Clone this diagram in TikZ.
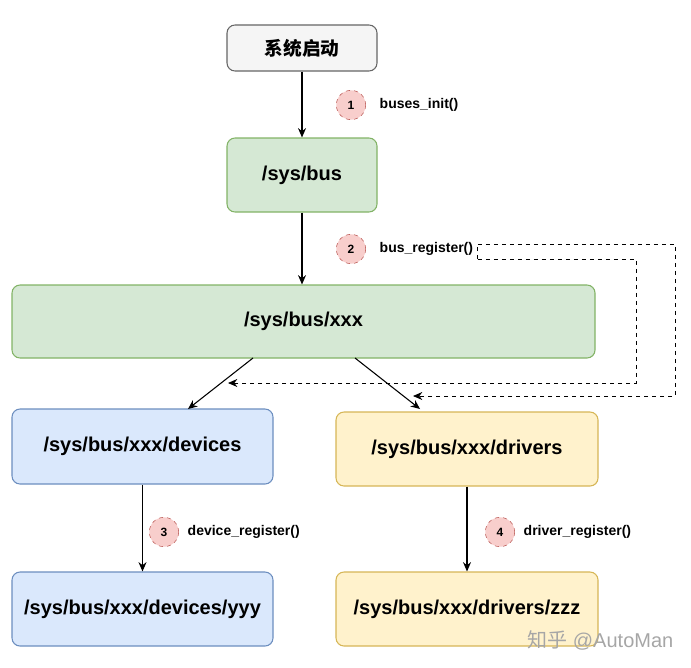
\documentclass[tikz,border=0pt]{standalone}
\usepackage{fontspec}
\setmainfont{Liberation Sans}
\newfontfamily\cjk{Noto Sans CJK SC}
\usetikzlibrary{arrows.meta}
\definecolor{gf}{HTML}{D5E8D4}\definecolor{gd}{HTML}{82B366}
\definecolor{bf}{HTML}{DAE8FC}\definecolor{bd}{HTML}{6C8EBF}
\definecolor{yf}{HTML}{FFF2CC}\definecolor{yd}{HTML}{D6B656}
\definecolor{rf}{HTML}{F8CECC}\definecolor{rd}{HTML}{B85450}
\tikzset{
 bx/.style={draw=#1d,fill=#1f,rounded corners=6pt,line width=0.8pt,font=\bfseries\fontsize{15}{18}\selectfont,inner sep=0pt},
 num/.style={circle,draw=rd,fill=rf,dashed,minimum size=22pt,inner sep=0pt,font=\bfseries\fontsize{9}{11}\selectfont},
 lab/.style={anchor=west,font=\bfseries\fontsize{10.5}{12}\selectfont},
 arr/.style={-{Stealth[length=7pt,width=6pt]},line width=0.8pt},
 darr/.style={-{Stealth[length=7pt,width=6pt]},dashed,line width=0.6pt}
}
\begin{document}
\begin{tikzpicture}[x=0.75pt,y=-0.75pt]
\useasboundingbox (0,0) rectangle (691,667);
\node[draw=black!60,fill=black!4,rounded corners=6pt,line width=0.8pt,minimum width=150*0.75pt,minimum height=46*0.75pt,font=\cjk\bfseries\fontsize{14}{17}\selectfont] (s) at (302,48) {系统启动};
\node[bx=g,minimum width=150*0.75pt,minimum height=74*0.75pt] (b) at (302,175) {/sys/bus};
\node[bx=g,minimum width=583*0.75pt,minimum height=73*0.75pt] (x) at (303.5,321.5) {/sys/bus/xxx};
\node[bx=b,minimum width=261*0.75pt,minimum height=75*0.75pt] (dv) at (142.5,446.5) {/sys/bus/xxx/devices};
\node[bx=y,minimum width=262*0.75pt,minimum height=74*0.75pt] (dr) at (467,449) {/sys/bus/xxx/drivers};
\node[bx=b,minimum width=261*0.75pt,minimum height=74*0.75pt] (dy) at (142.5,609) {/sys/bus/xxx/devices/yyy};
\node[bx=y,minimum width=262*0.75pt,minimum height=74*0.75pt] (dz) at (467,609) {/sys/bus/xxx/drivers/zzz};
\node[num] (n1) at (351,105) {1};
\node[lab] (l1) at (375,105) {buses\_init()};
\node[num] (n2) at (351,249) {2};
\node[lab] (l2) at (375,249) {bus\_register()};
\node[num] (n3) at (164,532) {3};
\node[lab] (l3) at (183,532) {device\_register()};
\node[num] (n4) at (500,532) {4};
\node[lab] (l4) at (519,532) {driver\_register()};
\draw[arr] (s.south) -- (b.north);
\draw[arr] (b.south) -- (x.north -| b.south);
\draw[arr] (253,358) -- (188,409);
\draw[arr] (355,358) -- (420,409);
\draw[arr] (dv.south) -- (dy.north);
\draw[arr] (dr.south) -- (dz.north);
\coordinate (e1) at (228,383);
\coordinate (e2) at (413,396);
\coordinate (t1) at (l2.east |- 0,259);
\coordinate (t2) at (l2.east |- 0,244);
\draw[darr] (t1) -- (636,259) -- (636,383) -- (e1);
\draw[darr] (t2) -- (675,244) -- (675,396) -- (e2);
\draw[dashed,line width=0.6pt] (t1) -- (t2);
\node[anchor=east,text=black!35,font=\fontsize{15}{18}\selectfont] (wm) at (678,640) {{\cjk 知乎} @AutoMan};
\end{tikzpicture}
\end{document}
